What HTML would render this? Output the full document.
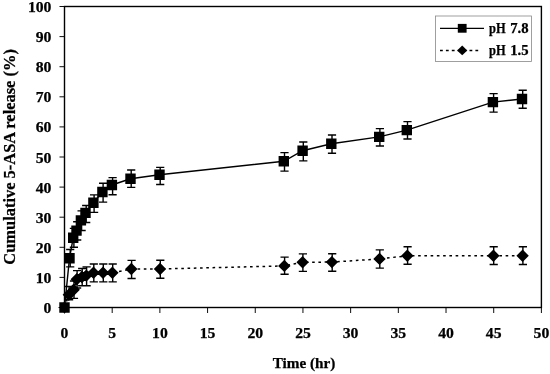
<!DOCTYPE html>
<html><head><meta charset="utf-8"><title>Cumulative 5-ASA release</title>
<style>
html,body{margin:0;padding:0;background:#fff;}
body{width:550px;height:374px;overflow:hidden;}
svg{display:block;}
text{font-family:"Liberation Serif","Times New Roman",serif;font-weight:bold;fill:#000;stroke:#000;stroke-width:0.25px;}
</style></head><body>
<svg width="550" height="374" viewBox="0 0 550 374">
<rect width="550" height="374" fill="#fff"/>
<rect x="64.5" y="6.5" width="476.9" height="301" fill="none" stroke="#000" stroke-width="1.4"/>
<path d="M59.5 307.50H64.5M59.5 277.40H64.5M59.5 247.30H64.5M59.5 217.20H64.5M59.5 187.10H64.5M59.5 157.00H64.5M59.5 126.90H64.5M59.5 96.80H64.5M59.5 66.70H64.5M59.5 36.60H64.5M59.5 6.50H64.5M64.50 307.5V313M112.19 307.5V313M159.88 307.5V313M207.57 307.5V313M255.26 307.5V313M302.95 307.5V313M350.64 307.5V313M398.33 307.5V313M446.02 307.5V313M493.71 307.5V313M541.40 307.5V313" stroke="#000" stroke-width="0.95" fill="none"/>
<g font-size="15px" text-anchor="end" lengthAdjust="spacingAndGlyphs">
<text x="51.4" y="313.0" textLength="7.8" lengthAdjust="spacingAndGlyphs">0</text>
<text x="51.4" y="282.9" textLength="15.7" lengthAdjust="spacingAndGlyphs">10</text>
<text x="51.4" y="252.8" textLength="15.7" lengthAdjust="spacingAndGlyphs">20</text>
<text x="51.4" y="222.7" textLength="15.7" lengthAdjust="spacingAndGlyphs">30</text>
<text x="51.4" y="192.6" textLength="15.7" lengthAdjust="spacingAndGlyphs">40</text>
<text x="51.4" y="162.5" textLength="15.7" lengthAdjust="spacingAndGlyphs">50</text>
<text x="51.4" y="132.4" textLength="15.7" lengthAdjust="spacingAndGlyphs">60</text>
<text x="51.4" y="102.3" textLength="15.7" lengthAdjust="spacingAndGlyphs">70</text>
<text x="51.4" y="72.2" textLength="15.7" lengthAdjust="spacingAndGlyphs">80</text>
<text x="51.4" y="42.1" textLength="15.7" lengthAdjust="spacingAndGlyphs">90</text>
<text x="51.4" y="12.0" textLength="23.5" lengthAdjust="spacingAndGlyphs">100</text>
</g>
<g font-size="15px" text-anchor="middle">
<text x="64.5" y="338.1" textLength="7.8" lengthAdjust="spacingAndGlyphs">0</text>
<text x="112.2" y="338.1" textLength="7.8" lengthAdjust="spacingAndGlyphs">5</text>
<text x="159.9" y="338.1" textLength="15.7" lengthAdjust="spacingAndGlyphs">10</text>
<text x="207.6" y="338.1" textLength="15.7" lengthAdjust="spacingAndGlyphs">15</text>
<text x="255.3" y="338.1" textLength="15.7" lengthAdjust="spacingAndGlyphs">20</text>
<text x="303.0" y="338.1" textLength="15.7" lengthAdjust="spacingAndGlyphs">25</text>
<text x="350.6" y="338.1" textLength="15.7" lengthAdjust="spacingAndGlyphs">30</text>
<text x="398.3" y="338.1" textLength="15.7" lengthAdjust="spacingAndGlyphs">35</text>
<text x="446.0" y="338.1" textLength="15.7" lengthAdjust="spacingAndGlyphs">40</text>
<text x="493.7" y="338.1" textLength="15.7" lengthAdjust="spacingAndGlyphs">45</text>
<text x="541.4" y="338.1" textLength="15.7" lengthAdjust="spacingAndGlyphs">50</text>
</g>
<text x="304" y="368" font-size="15px" text-anchor="middle" textLength="62.7" lengthAdjust="spacingAndGlyphs">Time (hr)</text>
<text transform="translate(14.5 156.9) rotate(-90)" font-size="16px" text-anchor="middle" textLength="215.5" lengthAdjust="spacingAndGlyphs">Cumulative 5-ASA release (%)</text>
<polyline fill="none" stroke="#000" stroke-width="1.4" points="64.5,307.5 69.5,258.2 73.2,237.8 76.5,230.6 80.9,220.4 85.5,212.9 93.4,202.7 102.4,192.0 111.9,185.0 130.5,178.8 159.5,174.7 283.8,161.3 302.6,150.7 331.3,143.7 379.2,136.9 406.8,130.1 492.9,102.1 522.0,99.0"/>
<polyline fill="none" stroke="#000" stroke-width="1.5" stroke-dasharray="2.6 3.65" points="64.5,307.5 68.8,294.7 73.7,289.7 76.8,279.3 81.9,277.0 86.3,275.6 93.5,272.7 103.0,272.7 112.4,272.7 131.3,269.0 160.0,269.0 284.3,265.9 302.6,262.2 331.9,262.1 379.5,258.9 407.3,255.8 493.4,255.8 522.6,255.8"/>
<path d="M70.2 249.5V266.9M66.1 249.5h8.2M66.1 266.9h8.2M73.9 228.4V247.3M69.8 228.4h8.2M69.8 247.3h8.2M77.2 221.8V240.0M73.1 221.8h8.2M73.1 240.0h8.2M81.6 210.9V230.5M77.5 210.9h8.2M77.5 230.5h8.2M86.2 205.5V222.5M82.1 205.5h8.2M82.1 222.5h8.2M94.1 194.9V212.4M90.0 194.9h8.2M90.0 212.4h8.2M103.1 183.3V202.1M99.0 183.3h8.2M99.0 202.1h8.2M112.6 177.6V194.8M108.5 177.6h8.2M108.5 194.8h8.2M131.2 170.0V187.4M127.1 170.0h8.2M127.1 187.4h8.2M160.2 167.4V184.5M156.1 167.4h8.2M156.1 184.5h8.2M284.5 152.6V171.1M280.4 152.6h8.2M280.4 171.1h8.2M303.3 142.0V160.9M299.2 142.0h8.2M299.2 160.9h8.2M332.0 135.0V153.3M327.9 135.0h8.2M327.9 153.3h8.2M379.9 128.6V146.0M375.8 128.6h8.2M375.8 146.0h8.2M407.5 121.6V139.0M403.4 121.6h8.2M403.4 139.0h8.2M493.6 93.6V112.1M489.5 93.6h8.2M489.5 112.1h8.2M522.7 90.3V108.2M518.6 90.3h8.2M518.6 108.2h8.2M69.1 286.5V299.8M65.0 286.5h8.2M65.0 299.8h8.2M74.0 281.0V298.4M69.9 281.0h8.2M69.9 298.4h8.2M77.1 270.6V288.0M73.0 270.6h8.2M73.0 288.0h8.2M82.2 268.5V285.7M78.1 268.5h8.2M78.1 285.7h8.2M86.6 266.9V285.8M82.5 266.9h8.2M82.5 285.8h8.2M93.8 264.0V281.9M89.7 264.0h8.2M89.7 281.9h8.2M103.3 264.0V281.9M99.2 264.0h8.2M99.2 281.9h8.2M112.7 264.0V281.9M108.6 264.0h8.2M108.6 281.9h8.2M131.6 260.4V278.5M127.5 260.4h8.2M127.5 278.5h8.2M160.3 260.2V278.3M156.2 260.2h8.2M156.2 278.3h8.2M284.6 257.1V274.3M280.5 257.1h8.2M280.5 274.3h8.2M302.9 253.9V271.4M298.8 253.9h8.2M298.8 271.4h8.2M332.2 253.8V271.2M328.1 253.8h8.2M328.1 271.2h8.2M379.8 249.9V268.1M375.7 249.9h8.2M375.7 268.1h8.2M407.6 246.8V264.3M403.5 246.8h8.2M403.5 264.3h8.2M493.7 246.7V264.5M489.6 246.7h8.2M489.6 264.5h8.2M522.9 246.7V264.5M518.8 246.7h8.2M518.8 264.5h8.2" stroke="#000" stroke-width="1.4" fill="none"/>
<path d="M64.5 301.3l6.2 6.2l-6.2 6.2l-6.2 -6.2zM68.8 288.5l6.2 6.2l-6.2 6.2l-6.2 -6.2zM73.7 283.5l6.2 6.2l-6.2 6.2l-6.2 -6.2zM76.8 273.1l6.2 6.2l-6.2 6.2l-6.2 -6.2zM81.9 270.8l6.2 6.2l-6.2 6.2l-6.2 -6.2zM86.3 269.4l6.2 6.2l-6.2 6.2l-6.2 -6.2zM93.5 266.5l6.2 6.2l-6.2 6.2l-6.2 -6.2zM103.0 266.5l6.2 6.2l-6.2 6.2l-6.2 -6.2zM112.4 266.5l6.2 6.2l-6.2 6.2l-6.2 -6.2zM131.3 262.8l6.2 6.2l-6.2 6.2l-6.2 -6.2zM160.0 262.8l6.2 6.2l-6.2 6.2l-6.2 -6.2zM284.3 259.7l6.2 6.2l-6.2 6.2l-6.2 -6.2zM302.6 256.0l6.2 6.2l-6.2 6.2l-6.2 -6.2zM331.9 255.9l6.2 6.2l-6.2 6.2l-6.2 -6.2zM379.5 252.7l6.2 6.2l-6.2 6.2l-6.2 -6.2zM407.3 249.6l6.2 6.2l-6.2 6.2l-6.2 -6.2zM493.4 249.6l6.2 6.2l-6.2 6.2l-6.2 -6.2zM522.6 249.6l6.2 6.2l-6.2 6.2l-6.2 -6.2zM59.3 302.3h10.4v10.4h-10.4zM64.3 253.0h10.4v10.4h-10.4zM68.0 232.6h10.4v10.4h-10.4zM71.3 225.4h10.4v10.4h-10.4zM75.7 215.2h10.4v10.4h-10.4zM80.3 207.7h10.4v10.4h-10.4zM88.2 197.5h10.4v10.4h-10.4zM97.2 186.8h10.4v10.4h-10.4zM106.7 179.8h10.4v10.4h-10.4zM125.3 173.6h10.4v10.4h-10.4zM154.3 169.5h10.4v10.4h-10.4zM278.6 156.1h10.4v10.4h-10.4zM297.4 145.5h10.4v10.4h-10.4zM326.1 138.5h10.4v10.4h-10.4zM374.0 131.7h10.4v10.4h-10.4zM401.6 124.9h10.4v10.4h-10.4zM487.7 96.9h10.4v10.4h-10.4zM516.8 93.8h10.4v10.4h-10.4z" fill="#000"/>
<rect x="435.5" y="16" width="96" height="45.5" fill="#fff" stroke="#888" stroke-width="0.8"/>
<path d="M440 28.4H484" stroke="#000" stroke-width="1.4"/>
<path d="M440 50.4H480" stroke="#000" stroke-width="1.5" stroke-dasharray="2.8 3.1"/>
<rect x="457.8" y="23.9" width="8.8" height="8.8" fill="#000"/>
<path d="M462.2 45.6l5.1 4.8l-5.1 4.8l-5.1 -4.8z" fill="#000"/>
<text y="33" font-size="14px"><tspan x="489" textLength="16.6" lengthAdjust="spacingAndGlyphs">pH</tspan> <tspan x="510.2" textLength="18.4" lengthAdjust="spacingAndGlyphs">7.8</tspan></text>
<text y="54.6" font-size="14px"><tspan x="489" textLength="16.6" lengthAdjust="spacingAndGlyphs">pH</tspan> <tspan x="510.2" textLength="18.4" lengthAdjust="spacingAndGlyphs">1.5</tspan></text>
</svg>
</body></html>
